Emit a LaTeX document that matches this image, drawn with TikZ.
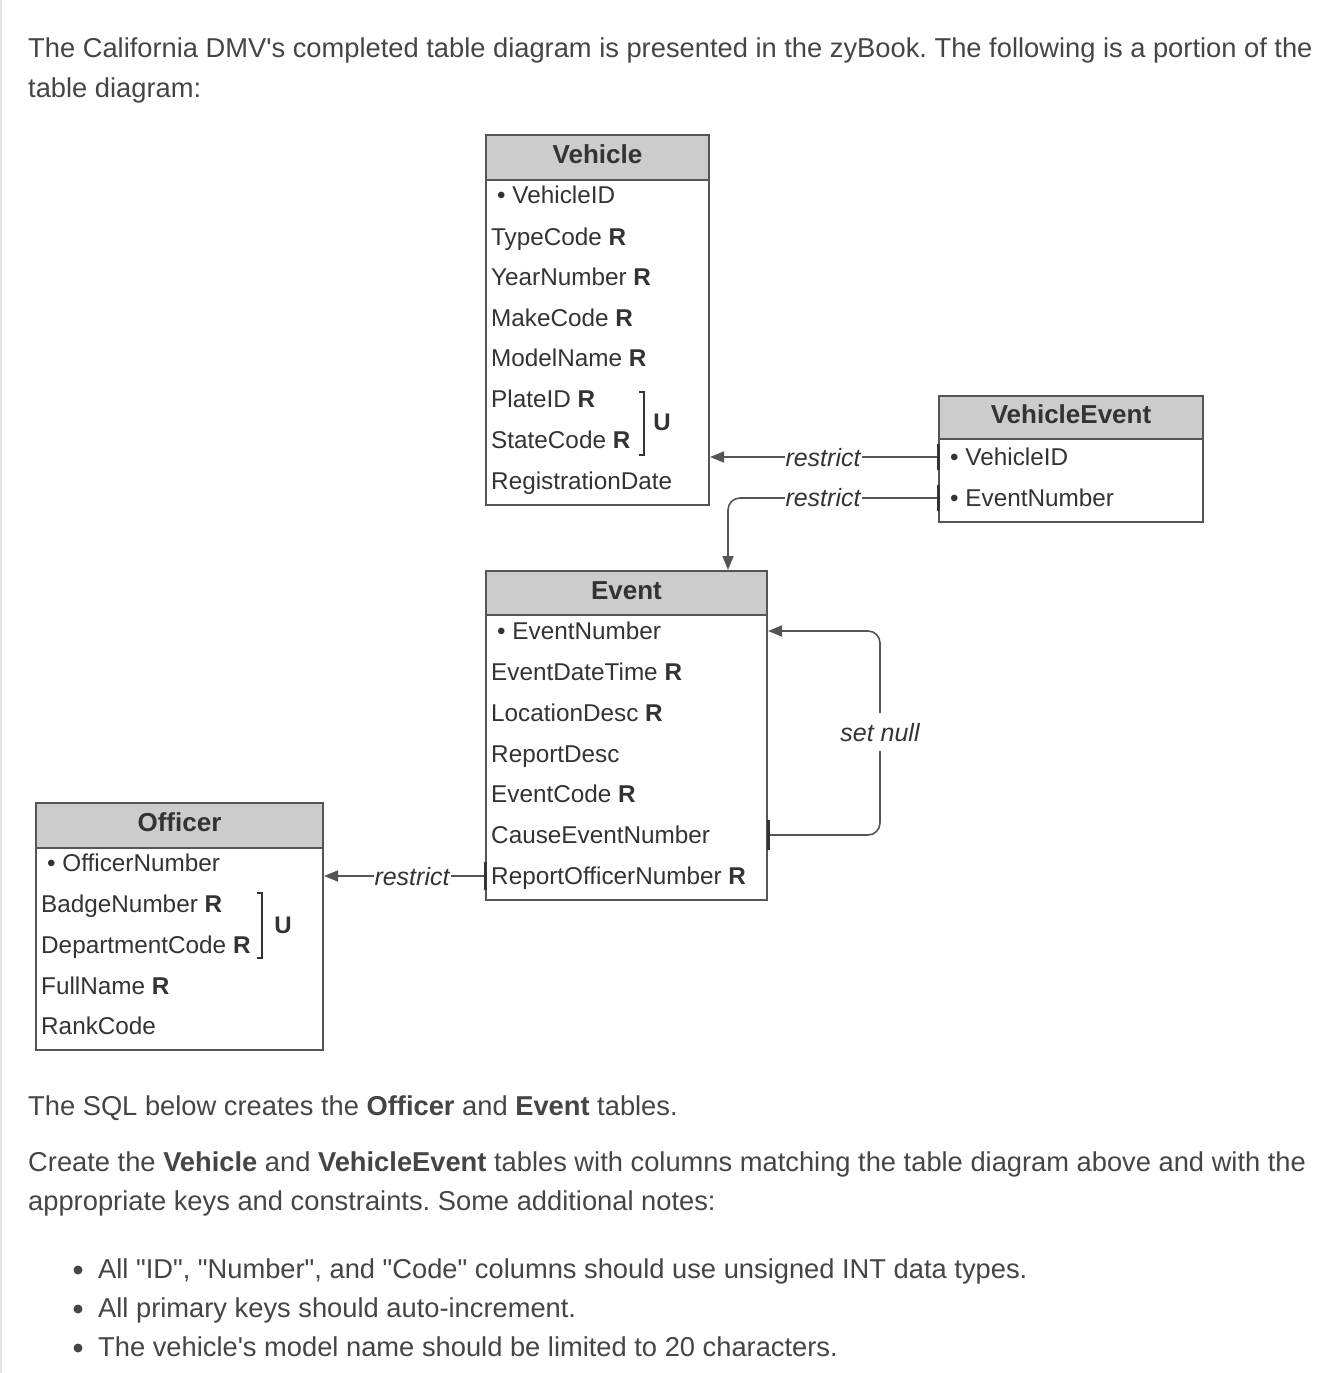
\documentclass[tikz,border=0pt]{standalone}
\usepackage{fontspec}
\setmainfont{Liberation Sans}[Ligatures=TeXOff]
\usetikzlibrary{arrows.meta,calc}
\definecolor{ink}{HTML}{333333}
\definecolor{bodyc}{HTML}{454545}
\definecolor{hdr}{HTML}{CCCCCC}
\definecolor{edge}{HTML}{555555}
\definecolor{frame}{HTML}{E4E4E4}
\frenchspacing
\begin{document}
\begin{tikzpicture}[x=1pt,y=-1pt,
  tbl/.style={draw=edge, line width=2pt, fill=white, anchor=north west, inner sep=0pt},
  hdrbox/.style={draw=edge, line width=2pt, fill=hdr, anchor=north west, inner sep=0pt,
    font=\fontsize{26}{30}\selectfont\bfseries, text=ink, text height=18.7pt, text depth=6pt},
  row/.style={anchor=west, inner sep=0pt, text height=17.4pt, text depth=0pt,
    font=\fontsize{24.3}{28}\selectfont, text=ink},
  lbl/.style={fill=white, inner xsep=1pt, inner ysep=2pt, text height=18pt, text depth=0pt,
    font=\fontsize{25}{30}\selectfont\itshape, text=ink},
  conn/.style={draw=edge, line width=1.6pt},
  tip/.style={-{Triangle[length=14pt,width=11pt]}},
  bar/.style={draw=ink, line width=3pt},
  brk/.style={draw=ink, line width=1.6pt},
  ubold/.style={anchor=center, inner sep=0pt, text height=17.4pt, text depth=0pt,
    font=\fontsize{24}{28}\selectfont\bfseries, text=ink},
  para/.style={anchor=west, inner sep=0pt, text height=19.5pt, text depth=0pt,
    font=\fontsize{27.3}{32}\selectfont, text=bodyc},
  dot/.style={circle, fill=bodyc, inner sep=0pt, minimum size=9pt}
]
\useasboundingbox[fill=white] (0,0) rectangle (1334,1373);
\draw[frame, line width=2pt] (1,0) -- (1,1373);

% ---------- paragraph text ----------
\node[para] (p1) at (28,48) {The California DMV's completed table diagram is presented in the zyBook. The following is a portion of the};
\node[para] (p2) at (28,88) {table diagram:};
\node[para] (p3) at (28,1106) {The SQL below creates the \textbf{Officer} and \textbf{Event} tables.};
\node[para] (p4) at (28,1162) {Create the \textbf{Vehicle} and \textbf{VehicleEvent} tables with columns matching the table diagram above and with the};
\node[para] (p5) at (28,1201) {appropriate keys and constraints. Some additional notes:};
\node[dot] (b1) at (78,1270) {};
\node[dot] (b2) at (78,1309) {};
\node[dot] (b3) at (78,1348) {};
\node[para] (p6) at (98,1269) {All "ID", "Number", and "Code" columns should use unsigned INT data types.};
\node[para] (p7) at (98,1308) {All primary keys should auto-increment.};
\node[para] (p8) at (98,1347) {The vehicle's model name should be limited to 20 characters.};

% ---------- Vehicle ----------
\node[tbl, minimum width=223pt, minimum height=370pt] (veh) at (485,134) {};
\node[hdrbox, minimum width=223pt, minimum height=45pt] (vehH) at (485,134) {Vehicle};
\node[row] (vVID)  at (497,195) {• VehicleID};
\node[row] (vType) at (491,237) {TypeCode \textbf{R}};
\node[row] (vYear) at (491,277) {YearNumber \textbf{R}};
\node[row] (vMake) at (491,318) {MakeCode \textbf{R}};
\node[row] (vModel) at (491,358) {ModelName \textbf{R}};
\node[row] (vPlate) at (491,399) {PlateID \textbf{R}};
\node[row] (vState) at (491,440) {StateCode \textbf{R}};
\node[row] (vReg) at (491,481) {RegistrationDate};
\draw[brk] (639,392) -- (644,392) -- (644,455) -- (639,455);
\node[ubold] (vU) at (662,422) {U};

% ---------- VehicleEvent ----------
\node[tbl, minimum width=264pt, minimum height=126pt] (ve) at (938,395) {};
\node[hdrbox, minimum width=264pt, minimum height=43pt] (veH) at (938,395) {VehicleEvent};
\node[row] (veVID) at (950,457) {• VehicleID};
\node[row] (veEN)  at (950,498) {• EventNumber};

% ---------- Event ----------
\node[tbl, minimum width=281pt, minimum height=329pt] (ev) at (485,570) {};
\node[hdrbox, minimum width=281pt, minimum height=44pt] (evH) at (485,570) {Event};
\node[row] (eNum)   at (497,631) {• EventNumber};
\node[row] (eDate)  at (491,672) {EventDateTime \textbf{R}};
\node[row] (eLoc)   at (491,713) {LocationDesc \textbf{R}};
\node[row] (eRep)   at (491,754) {ReportDesc};
\node[row] (eCode)  at (491,794) {EventCode \textbf{R}};
\node[row] (eCause) at (491,835) {CauseEventNumber};
\node[row] (eROff)  at (491,876) {ReportOfficerNumber \textbf{R}};

% ---------- Officer ----------
\node[tbl, minimum width=287pt, minimum height=247pt] (off) at (35,802) {};
\node[hdrbox, minimum width=287pt, minimum height=45pt] (offH) at (35,802) {Officer};
\node[row] (oNum)  at (47,863) {• OfficerNumber};
\node[row] (oBadge) at (41,904) {BadgeNumber \textbf{R}};
\node[row] (oDept) at (41,945) {DepartmentCode \textbf{R}};
\node[row] (oFull) at (41,986) {FullName \textbf{R}};
\node[row] (oRank) at (41,1026) {RankCode};
\draw[brk] (257,893) -- (262,893) -- (262,958) -- (257,958);
\node[ubold] (oU) at (283,925) {U};

% ---------- connectors ----------
% VehicleEvent.VehicleID -> Vehicle
\draw[conn, tip] (ve.west |- veVID) -- (veh.east |- veVID);
\node[lbl] (l1) at (823,457) {restrict};
\draw[bar] ($(ve.west |- veVID)+(0,-13)$) -- ($(ve.west |- veVID)+(0,13)$);

% VehicleEvent.EventNumber -> Event
\coordinate (evIn) at (728,570);
\draw[conn, tip, rounded corners=12pt] (ve.west |- veEN) -- (evIn |- veEN) -- (evIn);
\node[lbl] (l2) at (823,497) {restrict};
\draw[bar] ($(ve.west |- veEN)+(0,-13)$) -- ($(ve.west |- veEN)+(0,13)$);

% Event.CauseEventNumber -> Event (self)
\coordinate (loopx) at (880,0);
\draw[conn, tip, rounded corners=12pt] (ev.east |- eCause) -- (loopx |- eCause) -- (loopx |- eNum) -- (ev.east |- eNum);
\node[lbl, inner ysep=10pt] (l3) at (880,732) {set null};
\draw[bar] ($(ev.east |- eCause)+(0,-15)$) -- ($(ev.east |- eCause)+(0,15)$);

% Event.ReportOfficerNumber -> Officer
\draw[conn, tip] (ev.west |- eROff) -- (off.east |- eROff);
\node[lbl] (l4) at (412,876) {restrict};
\draw[bar] ($(ev.west |- eROff)+(0,-14)$) -- ($(ev.west |- eROff)+(0,14)$);
\end{tikzpicture}
\end{document}
